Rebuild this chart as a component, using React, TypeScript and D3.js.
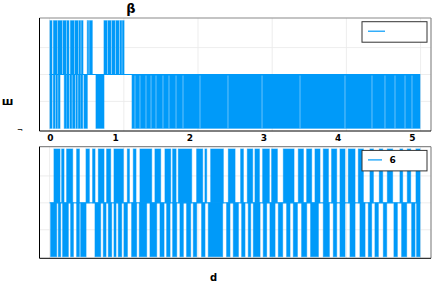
import React from "react";
import * as d3 from "d3";

const W = 432;
const H = 288;
const BLUE = "#009af9";

const xTicks = [0, 1, 2, 3, 4, 5];
const yGrid = [0.5, 1, 1.5];
const titleText = "β";
const xLabelText = "d";
const yLabelText = "ш";
const legendTop = "";
const legendBottom = "6";

// signal baseline level and extent
const baseLevel = 1;
const xStart = 0;
const xEnd = 4.992;

// top panel: runs of dense spikes up (1 -> 2) and down (1 -> 0)
const topUpRuns: [number, number][] = [
  [0.005, 0.032], [0.053, 0.1], [0.113, 0.167], [0.181, 0.221], [0.234, 0.261],
  [0.282, 0.329], [0.342, 0.383], [0.396, 0.416], [0.43, 0.45], [0.508, 0.524],
  [0.538, 0.575], [0.733, 0.774], [0.787, 0.827], [0.841, 0.881], [0.895, 0.935],
  [0.949, 0.969], [0.982, 1.003],
];
const topDownRuns: [number, number][] = [
  [0.005, 0.032], [0.05, 0.073], [0.086, 0.104], [0.117, 0.14], [0.198, 0.221],
  [0.23, 0.261], [0.275, 0.298], [0.311, 0.342], [0.356, 0.373], [0.387, 0.41],
  [0.419, 0.446], [0.464, 0.508], [0.625, 0.733], [1.111, 4.992],
];
const topDownLight = [
  1.151, 1.218, 1.299, 1.367, 1.434, 1.528, 1.609, 1.704, 1.798, 2.027, 2.404,
  2.863, 3.375, 3.981, 4.345, 4.52, 4.655, 4.79, 4.884,
];

// bottom panel
const botUpRuns: [number, number][] = [
  [0.059, 0.14], [0.163, 0.194], [0.23, 0.311], [0.365, 0.401], [0.491, 0.535],
  [0.58, 0.612], [0.657, 0.733], [0.769, 0.823], [0.868, 0.994], [1.048, 1.075],
  [1.128, 1.164], [1.218, 1.376], [1.42, 1.497], [1.555, 1.632], [1.659, 1.704],
  [1.735, 1.915], [1.982, 2.063], [2.094, 2.117], [2.171, 2.341], [2.409, 2.499],
  [2.575, 2.611], [2.665, 2.737], [2.768, 2.827], [2.872, 2.961], [2.993, 3.069],
  [3.15, 3.294], [3.352, 3.42], [3.465, 3.532], [3.577, 3.644], [3.689, 3.757],
  [3.801, 3.869], [3.914, 3.981], [4.026, 4.116], [4.161, 4.228], [4.318, 4.363],
  [4.444, 4.489], [4.552, 4.623], [4.722, 4.758], [4.821, 4.866], [4.938, 4.992],
];
const botDownRuns: [number, number][] = [
  [0.014, 0.095], [0.118, 0.149], [0.176, 0.252], [0.284, 0.32], [0.365, 0.401],
  [0.419, 0.491], [0.612, 0.688], [0.724, 0.76], [0.792, 0.836], [0.868, 0.895],
  [0.926, 0.971], [1.003, 1.048], [1.106, 1.173], [1.209, 1.308], [1.353, 1.443],
  [1.488, 1.542], [1.578, 1.623], [1.659, 1.713], [1.757, 1.802], [1.847, 1.901],
  [1.937, 1.982], [2.049, 2.094], [2.139, 2.332], [2.386, 2.431], [2.476, 2.544],
  [2.589, 2.633], [2.678, 2.71], [2.746, 2.836], [2.88, 2.925], [2.97, 3.038],
  [3.083, 3.141], [3.195, 3.24], [3.285, 3.339], [3.397, 3.465], [3.518, 3.622],
  [3.689, 3.77], [3.824, 3.869], [3.914, 3.981], [4.049, 4.116], [4.183, 4.251],
  [4.296, 4.34], [4.385, 4.43], [4.498, 4.543], [4.641, 4.686], [4.745, 4.812],
  [4.88, 4.924], [4.947, 4.992],
];

const FONT = "DejaVu Sans";

const x = d3.scaleLinear().domain([0, 5]).range([49.6, 420.6]);
const yTop = d3.scaleLinear().domain([-0.05, 2.05]).range([131, 18]);
const yBot = d3.scaleLinear().domain([-0.03, 2.043]).range([258.3, 146.7]);

function Panel({
  y,
  up,
  down,
  light,
  showTicks,
  legend,
}: {
  y: d3.ScaleLinear<number, number>;
  up: [number, number][];
  down: [number, number][];
  light: number[];
  showTicks: boolean;
  legend: { text: string; lineEnd: number };
}) {
  const [r0, r1] = y.range();
  const left = 39.5;
  const right = 431;
  const top = r1;
  const bottom = r0;
  const baseLine = d3.line<number>()
    .x((d) => x(d))
    .y(() => y(baseLevel));
  const lgY = top + 3.7;
  return (
    <g>
      <rect x={left} y={top} width={right - left} height={bottom - top} fill="white" />
      {xTicks.map((t) => (
        <line key={"gx" + t} x1={x(t)} x2={x(t)} y1={top} y2={bottom} stroke="#e8e8e8" strokeWidth={0.8} />
      ))}
      {yGrid.map((t) => (
        <line key={"gy" + t} x1={left} x2={right} y1={y(t)} y2={y(t)} stroke="#e8e8e8" strokeWidth={0.8} />
      ))}
      {up.map(([a, b], i) => (
        <rect key={"u" + i} x={x(a)} width={Math.max(0.8, x(b) - x(a))} y={y(2)} height={y(1) - y(2)} fill={BLUE} stroke={BLUE} strokeOpacity={0.6} strokeWidth={1} />
      ))}
      {down.map(([a, b], i) => (
        <rect key={"d" + i} x={x(a)} width={Math.max(0.8, x(b) - x(a))} y={y(1)} height={y(0) - y(1)} fill={BLUE} stroke={BLUE} strokeOpacity={0.6} strokeWidth={1} />
      ))}
      {light.map((v, i) => (
        <line key={"l" + i} x1={x(v)} x2={x(v)} y1={y(1) + 1} y2={y(0)} stroke="white" strokeOpacity={0.45} strokeWidth={0.9} />
      ))}
      <path d={baseLine([xStart, xEnd]) || ""} stroke={BLUE} strokeWidth={1} fill="none" />
      <line x1={left} x2={right} y1={top} y2={top} stroke="#8a8a8a" strokeWidth={1.2} />
      <line x1={right} x2={right} y1={top} y2={bottom} stroke="#8a8a8a" strokeWidth={1.2} />
      <line x1={left} x2={left} y1={top} y2={bottom} stroke="black" strokeWidth={1} />
      <line x1={left} x2={right} y1={bottom} y2={bottom} stroke="black" strokeWidth={1} />
      {showTicks &&
        xTicks.map((t) => (
          <text key={"tx" + t} x={x(t) + (t === 0 ? 0.7 : -8.2)} y={141} fontSize={9} fontWeight="bold" fontFamily={FONT} textAnchor="middle" fill="black">
            {t}
          </text>
        ))}
      <rect x={362} y={lgY} width={65} height={20.5} fill="white" stroke="#333" strokeWidth={1} />
      <line x1={368} x2={legend.lineEnd} y1={lgY + 9.5} y2={lgY + 9.5} stroke={BLUE} strokeWidth={1.2} />
      <text x={392.7} y={lgY + 13} fontSize={9} fontWeight="bold" fontFamily={FONT} textAnchor="middle" fill="black">
        {legend.text}
      </text>
    </g>
  );
}

export default function App() {
  return (
    <svg width={W} height={H} style={{ display: "block", position: "absolute", left: 0, top: 0, background: "white" }}>
      <rect width={W} height={H} fill="white" />
      <Panel y={yTop} up={topUpRuns} down={topDownRuns} light={topDownLight} showTicks={true} legend={{ text: legendTop, lineEnd: 385 }} />
      <Panel y={yBot} up={botUpRuns} down={botDownRuns} light={[]} showTicks={false} legend={{ text: legendBottom, lineEnd: 382 }} />
      <text x={131} y={12.5} fontSize={13} fontWeight="bold" fontFamily={FONT} textAnchor="middle" fill="black">
        {titleText}
      </text>
      <text x={213.5} y={281} fontSize={10} fontWeight="bold" fontFamily={FONT} textAnchor="middle" fill="black">
        {xLabelText}
      </text>
      <text x={7.5} y={105} fontSize={11} fontWeight="bold" fontFamily={FONT} textAnchor="middle" fill="black">
        {yLabelText}
      </text>
      <text x={20} y={132} fontSize={7} fontFamily={FONT} textAnchor="middle" fill="black">
        ¬
      </text>
    </svg>
  );
}
